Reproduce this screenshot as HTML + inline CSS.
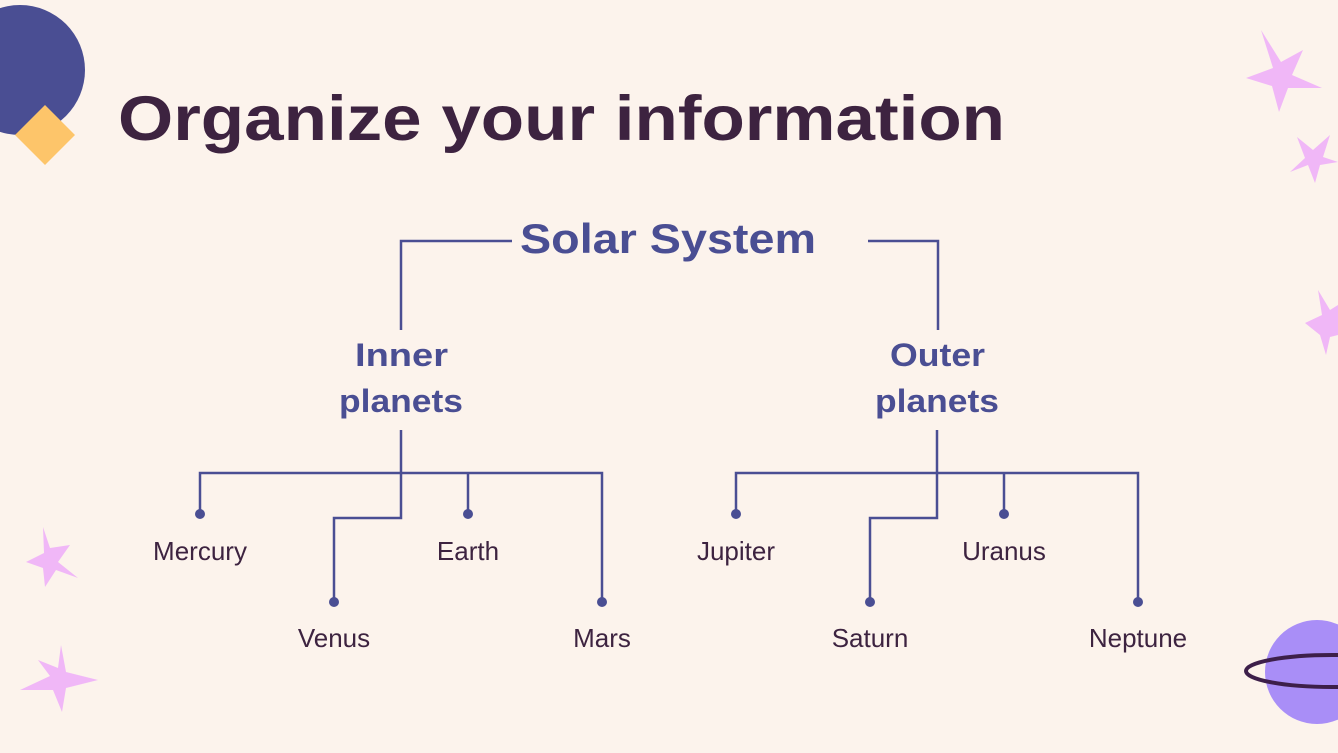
<!DOCTYPE html>
<html><head><style>
body{margin:0;width:1338px;height:753px;overflow:hidden;background:#fcf3ec;font-family:"Liberation Sans",sans-serif}
svg{position:absolute;left:0;top:0}
</style></head><body>
<svg width="1338" height="753" viewBox="0 0 1338 753">
<circle cx="20" cy="70" r="65" fill="#4a4e93"/>
<polygon points="45,105 75,135 45,165 15,135" fill="#fdc56a"/>
<g fill="#f0b7f7">
<polygon points="1261,30 1281,62 1303,50 1292,75 1322,88 1288,88 1279,112 1272,86 1246,78 1273,68"/>
<polygon points="1297,137 1313,150 1330,135 1323,157 1338,162 1320,165 1315,183 1308,165 1290,172 1305,158"/>
<polygon points="1318,290 1330,310 1338,305 1338,335 1330,337 1326,355 1320,335 1305,323 1322,315"/>
<polygon points="43,527 50,548 70,545 58,562 78,578 56,570 45,587 43,568 26,562 44,553"/>
<polygon points="61,645 66,672 98,680 66,688 62,712 53,690 20,690 50,676 38,660 58,668"/>
</g>
<circle cx="1317" cy="672" r="52" fill="#a98ef7"/>
<ellipse cx="1332" cy="671" rx="86" ry="16" fill="none" stroke="#3d1f4a" stroke-width="4"/>
<g fill="none" stroke="#4a4e93" stroke-width="2.5">
<polyline points="512,241 401,241 401,330"/>
<polyline points="868,241 938,241 938,330"/>
<line x1="401" y1="430" x2="401" y2="473"/>
<polyline points="200,514 200,473 602,473 602,602"/>
<line x1="468" y1="473" x2="468" y2="514"/>
<polyline points="401,473 401,518 334,518 334,602"/>
<line x1="937" y1="430" x2="937" y2="473"/>
<polyline points="736,514 736,473 1138,473 1138,602"/>
<line x1="1004" y1="473" x2="1004" y2="514"/>
<polyline points="937,473 937,518 870,518 870,602"/>
</g>
<g fill="#4a4e93">
<circle cx="200" cy="514" r="5"/><circle cx="468" cy="514" r="5"/><circle cx="334" cy="602" r="5"/><circle cx="602" cy="602" r="5"/>
<circle cx="736" cy="514" r="5"/><circle cx="1004" cy="514" r="5"/><circle cx="870" cy="602" r="5"/><circle cx="1138" cy="602" r="5"/>
</g>
<text x="118" y="140" font-size="63" font-weight="bold" fill="#3d2340" textLength="887" lengthAdjust="spacingAndGlyphs">Organize your information</text>
<g font-weight="bold" fill="#4a4e93">
<text x="520" y="253" font-size="42" textLength="296" lengthAdjust="spacingAndGlyphs">Solar System</text>
<text x="355" y="366" font-size="32" textLength="93" lengthAdjust="spacingAndGlyphs">Inner</text>
<text x="339" y="412" font-size="32" textLength="124" lengthAdjust="spacingAndGlyphs">planets</text>
<text x="890" y="366" font-size="32" textLength="95" lengthAdjust="spacingAndGlyphs">Outer</text>
<text x="875" y="412" font-size="32" textLength="124" lengthAdjust="spacingAndGlyphs">planets</text>
</g>
<g font-size="26" fill="#3d2340" text-anchor="middle">
<text x="200" y="560">Mercury</text>
<text x="468" y="560">Earth</text>
<text x="334" y="647">Venus</text>
<text x="602" y="647">Mars</text>
<text x="736" y="560">Jupiter</text>
<text x="1004" y="560">Uranus</text>
<text x="870" y="647">Saturn</text>
<text x="1138" y="647">Neptune</text>
</g>
</svg>
</body></html>
